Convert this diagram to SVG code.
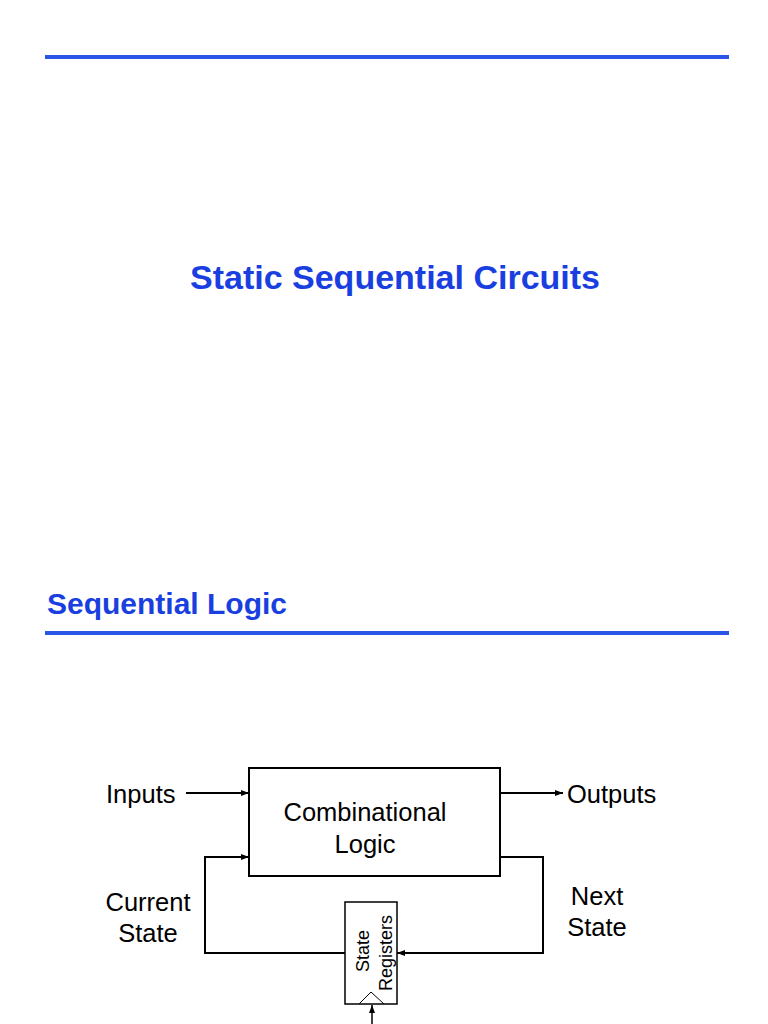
<svg xmlns="http://www.w3.org/2000/svg" width="768" height="1024" viewBox="0 0 768 1024">
<defs>
<marker id="ah" markerWidth="8" markerHeight="6" refX="8" refY="3" orient="auto" markerUnits="userSpaceOnUse"><path d="M0,0 L8,3 L0,6 z" fill="#000"/></marker>
<style>
.t{font-family:"Liberation Sans",Arial,sans-serif;fill:#000;font-size:25.5px}
.h{font-family:"Liberation Sans",Arial,sans-serif;fill:#1a3fe0;font-weight:bold}
.w{fill:none;stroke:#000;stroke-width:2}
.bl{stroke:#2a55e8;stroke-width:4}
</style>
</defs>
<rect width="768" height="1024" fill="#fff"/>
<line class="bl" x1="45" y1="57" x2="729" y2="57"/>
<text class="h" x="395" y="289" font-size="34" text-anchor="middle">Static Sequential Circuits</text>
<text class="h" x="47" y="614" font-size="30">Sequential Logic</text>
<line class="bl" x1="45" y1="633" x2="729" y2="633"/>
<g id="comb"><rect x="249" y="768" width="251" height="108" class="w"/>
<text class="t" x="365" y="821" text-anchor="middle">Combinational</text>
<text class="t" x="365" y="853" text-anchor="middle">Logic</text></g>
<g id="reg"><rect x="345" y="902" width="52" height="102" class="w" style="stroke-width:1.5"/>
<path d="M359,1004 L371,992 L384,1004" class="w" style="stroke-width:1"/>
<text class="t" style="font-size:18px" transform="translate(369,972) rotate(-90)">State</text>
<text class="t" style="font-size:18px" transform="translate(392,991) rotate(-90)">Registers</text></g>
<g id="labels">
<text class="t" x="106" y="803">Inputs</text>
<text class="t" x="567" y="803">Outputs</text>
<text class="t" x="148" y="911" text-anchor="middle">Current</text>
<text class="t" x="148" y="942" text-anchor="middle">State</text>
<text class="t" x="597" y="905" text-anchor="middle">Next</text>
<text class="t" x="597" y="936" text-anchor="middle">State</text></g>
<g id="connectors">
<line class="w" x1="186" y1="793" x2="249" y2="793" marker-end="url(#ah)"/>
<line class="w" x1="500" y1="793" x2="563" y2="793" marker-end="url(#ah)"/>
<path class="w" d="M345,953 H205 V857 H249" marker-end="url(#ah)"/>
<path class="w" d="M500,857 H543 V953 H397" marker-end="url(#ah)"/>
<line class="w" x1="372" y1="1024" x2="372" y2="1005" style="stroke-width:1.5" marker-end="url(#ah)"/>
</g>
</svg>
